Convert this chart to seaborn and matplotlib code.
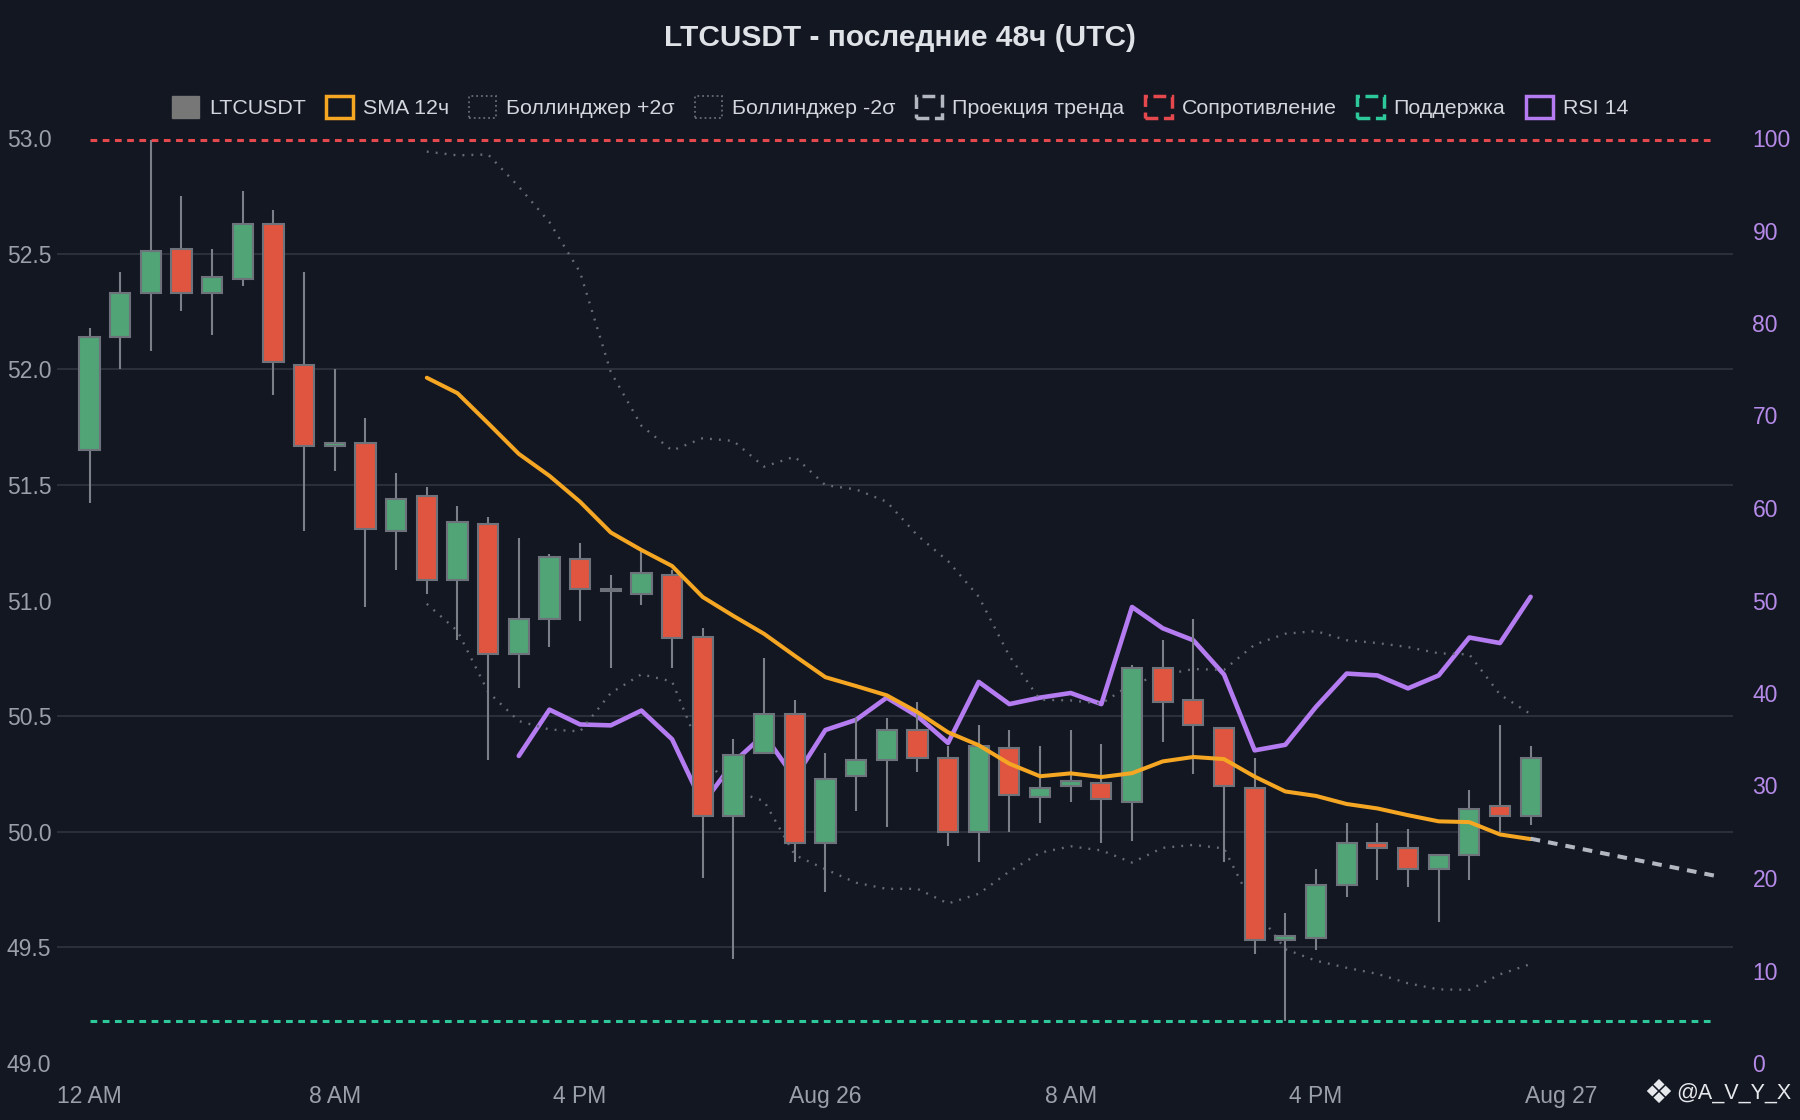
import numpy as np
import pandas as pd
import matplotlib
matplotlib.use("Agg")
import matplotlib.pyplot as plt
from matplotlib.patches import Patch
import seaborn as sns

# ---------------------------------------------------------------------
# Data: hourly LTCUSDT candles, Aug 25 00:00 -> Aug 26 23:00 (UTC)
# ---------------------------------------------------------------------
hours = list(range(48))

opens = [51.65, 52.14, 52.33, 52.52, 52.33, 52.39, 52.63, 52.02,
         51.67, 51.68, 51.30, 51.45, 51.09, 51.33, 50.77, 50.92,
         51.18, 51.05, 51.03, 51.11, 50.84, 50.07, 50.34, 50.51,
         49.95, 50.24, 50.31, 50.44, 50.32, 50.00, 50.36, 50.15,
         50.20, 50.21, 50.13, 50.71, 50.57, 50.45, 50.19, 49.53,
         49.54, 49.77, 49.95, 49.93, 49.84, 49.90, 50.11, 50.07]
closes = [52.14, 52.33, 52.51, 52.33, 52.40, 52.63, 52.03, 51.67,
          51.68, 51.31, 51.44, 51.09, 51.34, 50.77, 50.92, 51.19,
          51.05, 51.04, 51.12, 50.84, 50.07, 50.33, 50.51, 49.95,
          50.23, 50.31, 50.44, 50.32, 50.00, 50.37, 50.16, 50.19,
          50.22, 50.14, 50.71, 50.56, 50.46, 50.20, 49.53, 49.55,
          49.77, 49.95, 49.93, 49.84, 49.90, 50.10, 50.07, 50.32]
highs = [52.18, 52.42, 52.99, 52.75, 52.52, 52.77, 52.69, 52.42,
         52.00, 51.79, 51.55, 51.49, 51.41, 51.36, 51.27, 51.20,
         51.25, 51.11, 51.22, 51.13, 50.88, 50.40, 50.75, 50.57,
         50.34, 50.49, 50.49, 50.56, 50.37, 50.46, 50.44, 50.37,
         50.44, 50.38, 50.72, 50.83, 50.92, 50.45, 50.32, 49.65,
         49.84, 50.04, 50.04, 50.01, 49.90, 50.18, 50.46, 50.37]
lows = [51.42, 52.00, 52.08, 52.25, 52.15, 52.36, 51.89, 51.30,
        51.56, 50.97, 51.13, 51.03, 50.83, 50.31, 50.62, 50.80,
        50.91, 50.71, 50.98, 50.71, 49.80, 49.45, 50.34, 49.87,
        49.74, 50.09, 50.02, 50.26, 49.94, 49.87, 50.00, 50.04,
        50.13, 49.95, 49.96, 50.39, 50.25, 49.87, 49.47, 49.18,
        49.49, 49.72, 49.79, 49.76, 49.61, 49.79, 50.00, 50.03]

# RSI 14 (hours 14..47)
rsi_hours = list(range(14, 48))
rsi_values = [33.2, 38.2, 36.6, 36.5, 38.1, 35.0, 28.0, 32.5,
              35.5, 30.8, 36.0, 37.1, 39.5, 37.5, 34.6, 41.2,
              38.8, 39.5, 40.0, 38.8, 49.3, 47.0, 45.7, 42.0,
              33.8, 34.4, 38.5, 42.1, 41.9, 40.5, 41.9, 46.0,
              45.4, 50.4]

resistance = 52.99
support = 49.18
level_span = [0, 53]
proj_hours = [47, 53]
proj_values = [49.97, 49.81]

tick_hours = [0, 8, 16, 24, 32, 40, 48]
tick_labels = ["12 AM", "8 AM", "4 PM", "Aug 26", "8 AM", "4 PM", "Aug 27"]

title = "LTCUSDT - последние 48ч (UTC)"

# ---------------------------------------------------------------------
# SMA 12 and Bollinger 2σ from the closes
# ---------------------------------------------------------------------
df = pd.DataFrame({"hour": hours, "open": opens, "high": highs,
                   "low": lows, "close": closes})
df["sma"] = df["close"].rolling(12).mean()
std = df["close"].rolling(12).std(ddof=0)
df["bb_up"] = df["sma"] + 2 * std
df["bb_dn"] = df["sma"] - 2 * std
rsi = pd.DataFrame({"hour": rsi_hours, "rsi": rsi_values})

# ---------------------------------------------------------------------
# Style
# ---------------------------------------------------------------------
BG = "#131722"
GRID = "#30343f"
TXT = "#9aa0aa"
GREEN = "#50a476"
RED = "#e0553f"
OUTLINE = "#6e727b"
ORANGE = "#f5a623"
PURPLE = "#b47cf0"
BAND = "#666c78"
RES = "#e5484d"
SUP = "#2ec99a"
PROJ = "#b3b7bf"

sns.set_theme(style="dark", rc={"axes.facecolor": BG, "figure.facecolor": BG})
plt.rcParams["font.family"] = ["Liberation Sans", "DejaVu Sans"]

fig = plt.figure(figsize=(18, 11.2), dpi=100)
fig.patch.set_facecolor(BG)
rect = [57 / 1800, 57 / 1120, 1676 / 1800, 925 / 1120]
ax = fig.add_axes(rect)
ax2 = ax.twinx()
ax.set_zorder(2)
ax2.set_zorder(1)
ax.patch.set_visible(False)
ax2.patch.set_facecolor(BG)

# RSI (drawn behind the candles)
sns.lineplot(data=rsi, x="hour", y="rsi", ax=ax2, color=PURPLE, lw=3.3)

# Bollinger bands
sns.lineplot(data=df, x="hour", y="bb_up", ax=ax, color=BAND, lw=1.7,
             linestyle=(0, (0.8, 3.0)), zorder=1)
sns.lineplot(data=df, x="hour", y="bb_dn", ax=ax, color=BAND, lw=1.7,
             linestyle=(0, (0.8, 3.0)), zorder=1)

# Candles
up = df["close"] >= df["open"]
body_lo = df[["open", "close"]].min(axis=1)
body_h = (df["close"] - df["open"]).abs()
ax.vlines(df["hour"], df["low"], df["high"], color="#7b7f88", lw=1.5, zorder=2)
ax.bar(df["hour"], body_h, bottom=body_lo, width=0.66,
       color=np.where(up, GREEN, RED), edgecolor=OUTLINE, linewidth=1.5, zorder=3)

# SMA and trend projection
sns.lineplot(data=df, x="hour", y="sma", ax=ax, color=ORANGE, lw=2.9, zorder=4)
sns.lineplot(x=proj_hours, y=proj_values, ax=ax, color=PROJ, lw=2.9,
             linestyle=(0, (2.4, 2.0)), zorder=4)

# Resistance / support
sns.lineplot(x=level_span, y=[resistance, resistance], ax=ax, color=RES,
             lw=2.2, linestyle=(0, (2.2, 1.8)), zorder=4)
sns.lineplot(x=level_span, y=[support, support], ax=ax, color=SUP,
             lw=2.2, linestyle=(0, (2.2, 1.8)), zorder=4)

# Axes
ax.set_xlim(-1.06, 53.6)
ax.set_ylim(49.0, 53.0)
ax2.set_ylim(0, 100)
ax.set_xticks(tick_hours)
ax.set_xticklabels(tick_labels)
ax.set_yticks(np.arange(49.0, 53.01, 0.5))
ax.set_yticklabels([f"{v:.1f}" for v in np.arange(49.0, 53.01, 0.5)])
ax2.set_yticks(np.arange(0, 101, 10))
ax.set_xlabel("")
ax.set_ylabel("")
ax2.set_ylabel("")
ax.grid(False)

# grid lives on the back axes so the RSI line is not crossed by it
ax2.set_yticks(np.linspace(0, 100, 9), minor=True)
ax2.grid(False)
ax2.grid(which="minor", axis="y", color=GRID, lw=1.2)
ax2.grid(which="major", axis="x", color=GRID, lw=1.2)
ax2.tick_params(axis="y", which="minor", length=0)

ax.tick_params(axis="x", colors=GRID, length=12, width=1.2, pad=4,
               labelsize=16.5, labelcolor=TXT)
ax.tick_params(axis="y", length=0, pad=4, labelsize=16.5, labelcolor=TXT)
ax2.tick_params(axis="y", which="major", length=0, pad=14, labelsize=16.5,
                labelcolor="#b58ae8")
for a in (ax, ax2):
    for s in a.spines.values():
        s.set_visible(False)

# Title, legend, watermark
fig.text(0.5, 1 - 38 / 1120, title, ha="center", va="center",
         fontsize=21.5, fontweight="bold", color="#dfe2e7")

handles = [
    Patch(facecolor="#777777", edgecolor="#777777", label="LTCUSDT"),
    Patch(facecolor="none", edgecolor=ORANGE, lw=2.5, label="SMA 12ч"),
    Patch(facecolor="none", edgecolor=BAND, lw=1.3, linestyle=":", label="Боллинджер +2σ"),
    Patch(facecolor="none", edgecolor=BAND, lw=1.3, linestyle=":", label="Боллинджер -2σ"),
    Patch(facecolor="none", edgecolor=PROJ, lw=2.5, linestyle="--", label="Проекция тренда"),
    Patch(facecolor="none", edgecolor=RES, lw=2.5, linestyle="--", label="Сопротивление"),
    Patch(facecolor="none", edgecolor=SUP, lw=2.5, linestyle="--", label="Поддержка"),
    Patch(facecolor="none", edgecolor=PURPLE, lw=2.5, label="RSI 14"),
]
fig.legend(handles=handles, loc="center", bbox_to_anchor=(0.5, 1 - 107 / 1120),
           ncol=8, frameon=False, fontsize=15.4, handlelength=1.25,
           handleheight=1.25, handletextpad=0.47, columnspacing=0.95,
           labelcolor="#d3d6dc")

fig.text(1673 / 1800, 1 - 1093 / 1120, "❖", ha="right", va="center",
         fontsize=24, color="#e6e8ec", family=["DejaVu Sans"])
fig.text(1792 / 1800, 1 - 1093 / 1120, "@A_V_Y_X", ha="right", va="center",
         fontsize=15.5, color="#e6e8ec")

fig.savefig("out.png", dpi=100, facecolor=BG)
